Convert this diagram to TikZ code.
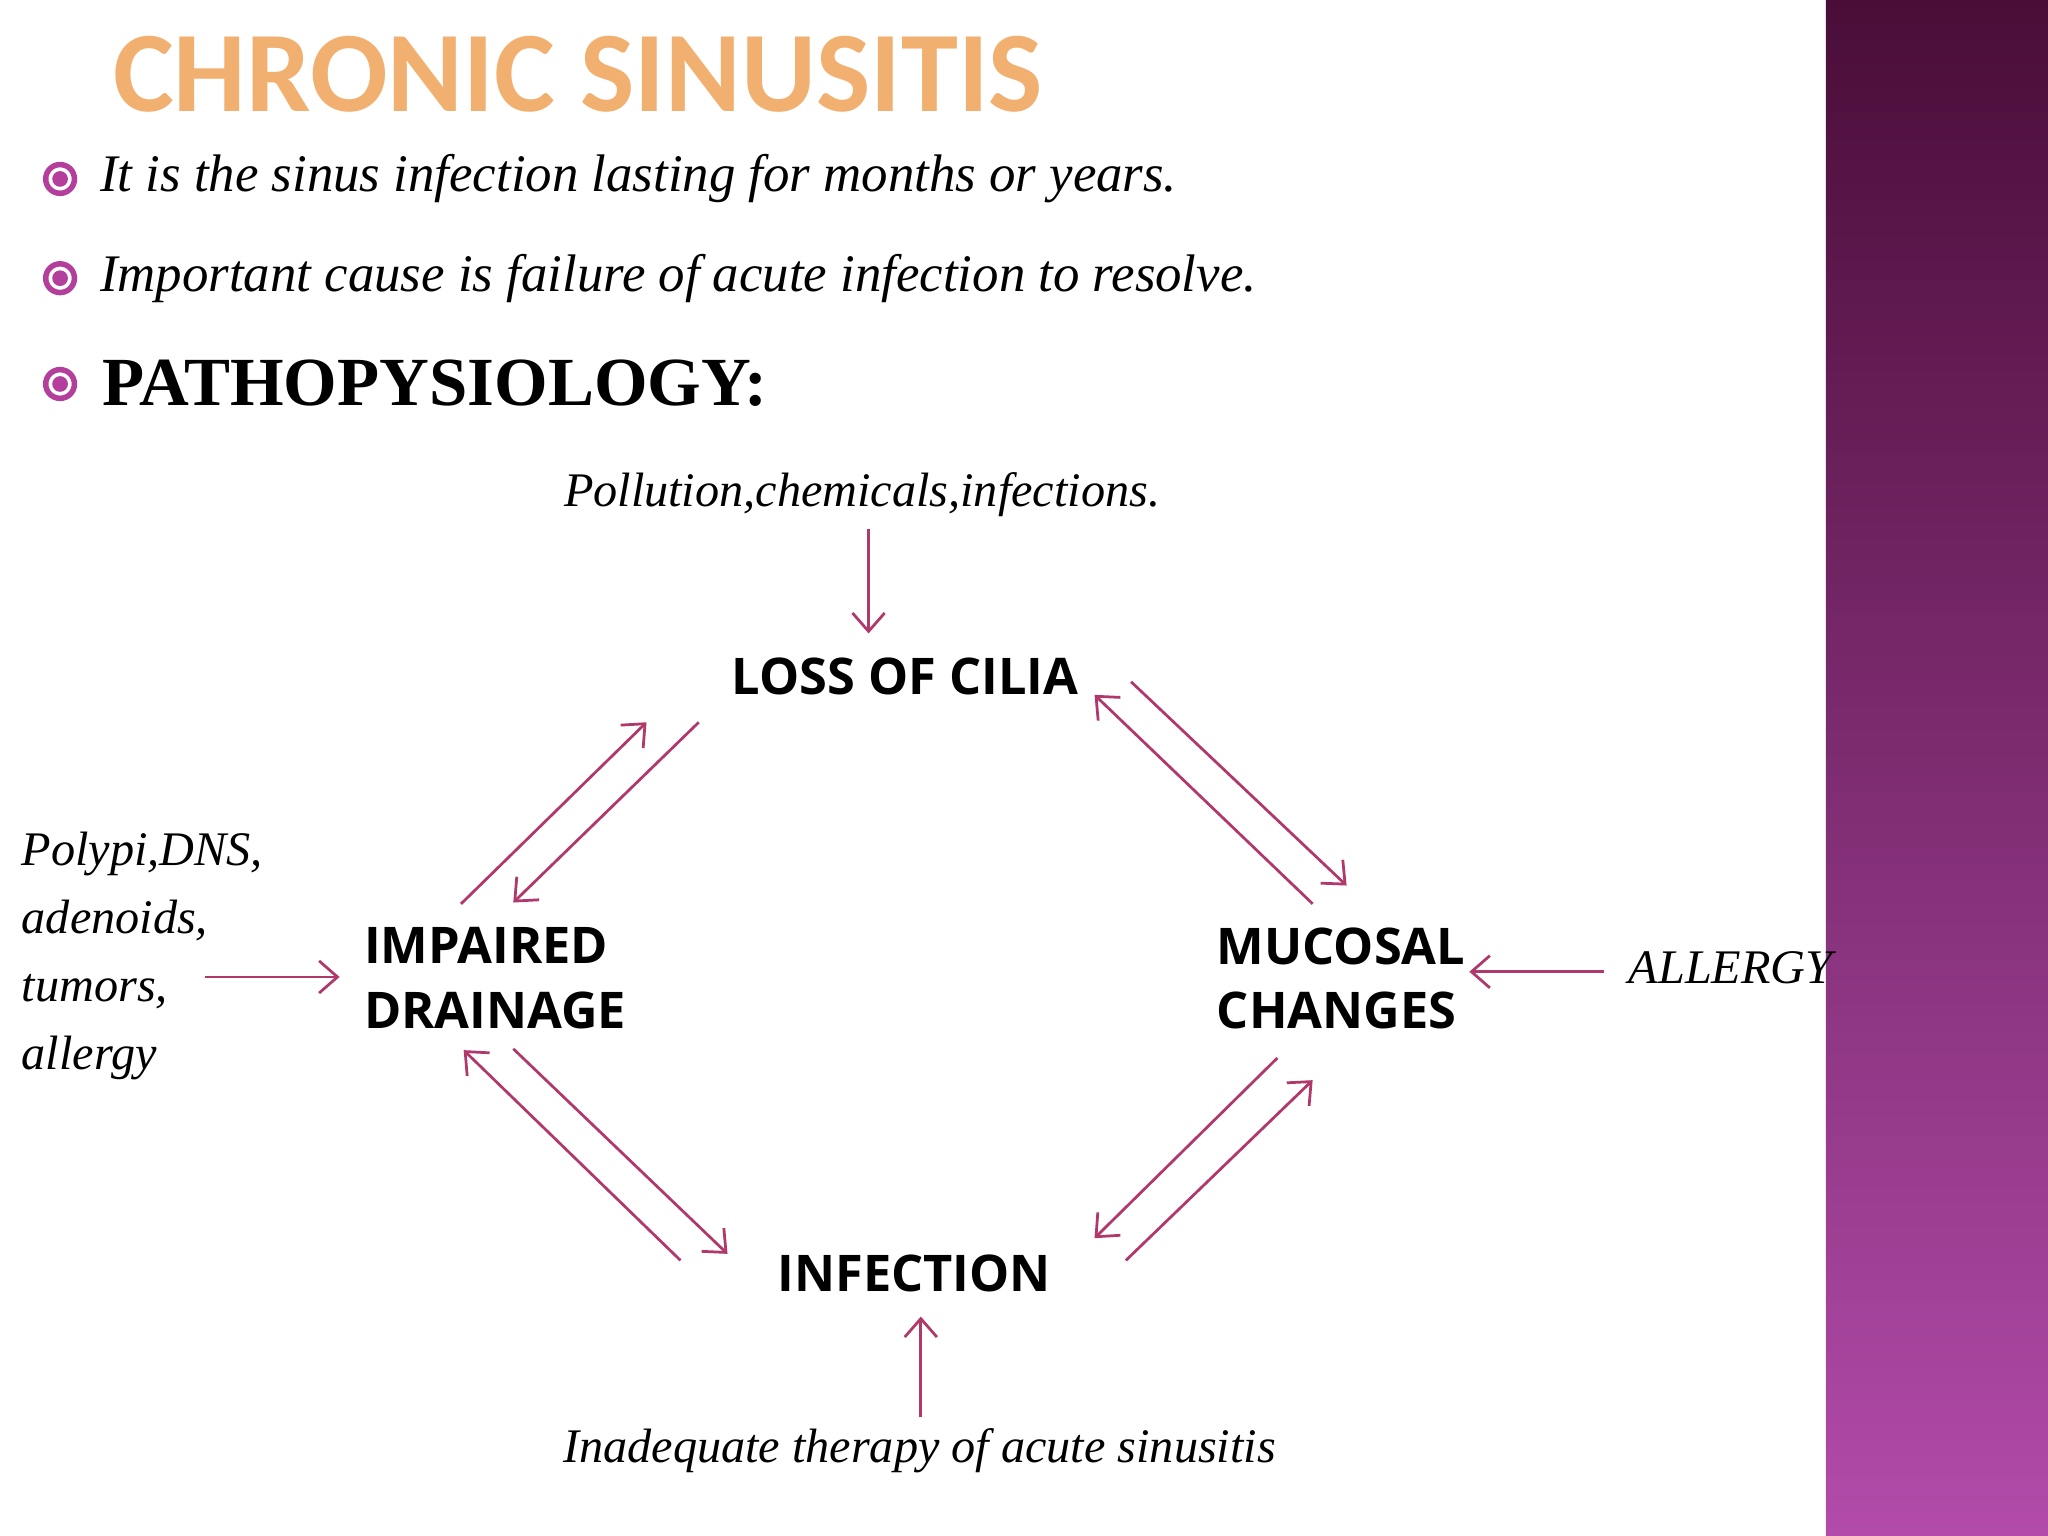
\documentclass[tikz,border=0pt]{standalone}
\usepackage{fontspec}
\setmainfont{Liberation Serif}
\setsansfont{Open Sans}
\newfontfamily\titlefont{Carlito}
\usetikzlibrary{arrows.meta}
\definecolor{arrowred}{HTML}{B0386A}
\definecolor{bulletpink}{HTML}{B43E9C}
\definecolor{stripetop}{HTML}{4A0D38}
\definecolor{stripebot}{HTML}{B24BAA}
\definecolor{titleorange}{HTML}{F2B070}
\tikzset{
  cycarrow/.style={draw=arrowred, line width=0.6pt, -{Straight Barb[length=4pt,width=7pt]}},
  stage/.style={font=\sffamily\bfseries\fontsize{11}{14}\selectfont, align=left, inner sep=0pt},
  cause/.style={font=\itshape\fontsize{10.5}{15}\selectfont, align=left, inner sep=0pt},
  bullettext/.style={font=\itshape\fontsize{11.5}{14}\selectfont, anchor=west, inner sep=0pt}
}
\newcommand{\slidebullet}[1]{%
  \draw[bulletpink, line width=1.2pt] (46,#1) circle (11);
  \fill[bulletpink] (46,#1) circle (6);}
\begin{document}
\begin{tikzpicture}[x=0.01cm, y=-0.01cm]
  \useasboundingbox (0,0) rectangle (1568,1176);
  \fill[white] (0,0) rectangle (1568,1176);
  \shade[top color=stripetop, bottom color=stripebot] (1398,0) rectangle (1568,1176);

  % title and bullets
  \node[font=\titlefont\bfseries\fontsize{25}{28}\selectfont, text=titleorange, anchor=west, inner sep=0pt] (title) at (86,57) {CHRONIC SINUSITIS};
  \slidebullet{137}
  \slidebullet{213}
  \slidebullet{294}
  \node[bullettext] (b1) at (76,137) {It is the sinus infection lasting  for months or years.};
  \node[bullettext] (b2) at (76,213) {Important cause is failure of acute infection to resolve.};
  \node[font=\bfseries\fontsize{15}{18}\selectfont, anchor=west, inner sep=0pt] (patho) at (78,293) {PATHOPYSIOLOGY:};

  % stages
  \node[stage] (cilia) at (693,518) {LOSS OF CILIA};
  \node[stage, anchor=west] (drain) at (278,749) {IMPAIRED\\DRAINAGE};
  \node[stage, anchor=west] (mucosa) at (931,749) {MUCOSAL\\CHANGES};
  \node[stage] (infect) at (700,975) {INFECTION};

  % causes
  \node[cause] (pollution) at (660,379) {Pollution,chemicals,infections.};
  \node[cause] (therapy) at (704,1111) {Inadequate therapy of acute sinusitis};
  \node[cause, anchor=west, font=\itshape\fontsize{10.5}{14.8}\selectfont] (polypi) at (16,732) {Polypi,DNS,\\adenoids,\\tumors,\\allergy};
  \node[cause] (allergy) at (1325,741) {ALLERGY};

  % arrow ends
  \coordinate (p1) at (665,405); \coordinate (p2) at (665,485);
  \coordinate (t1) at (705,1085); \coordinate (t2) at (705,1008);
  \coordinate (l1) at (157,748); \coordinate (l2) at (260,748);
  \coordinate (r1) at (1228,744); \coordinate (r2) at (1125,744);
  \coordinate (a1) at (353,692); \coordinate (a2) at (495,553);
  \coordinate (a3) at (535,553); \coordinate (a4) at (393,691);
  \coordinate (c1) at (866,522); \coordinate (c2) at (1031,678);
  \coordinate (c3) at (1005,692); \coordinate (c4) at (838,532);
  \coordinate (d1) at (393,803); \coordinate (d2) at (557,960);
  \coordinate (d3) at (521,965); \coordinate (d4) at (355,804);
  \coordinate (e1) at (978,810); \coordinate (e2) at (838,948);
  \coordinate (e3) at (862,965); \coordinate (e4) at (1005,827);

  \draw[cycarrow] (p1) -- (p2);
  \draw[cycarrow] (t1) -- (t2);
  \draw[cycarrow] (l1) -- (l2);
  \draw[cycarrow] (r1) -- (r2);
  \draw[cycarrow] (a1) -- (a2);
  \draw[cycarrow] (a3) -- (a4);
  \draw[cycarrow] (c1) -- (c2);
  \draw[cycarrow] (c3) -- (c4);
  \draw[cycarrow] (d1) -- (d2);
  \draw[cycarrow] (d3) -- (d4);
  \draw[cycarrow] (e1) -- (e2);
  \draw[cycarrow] (e3) -- (e4);
\end{tikzpicture}
\end{document}
